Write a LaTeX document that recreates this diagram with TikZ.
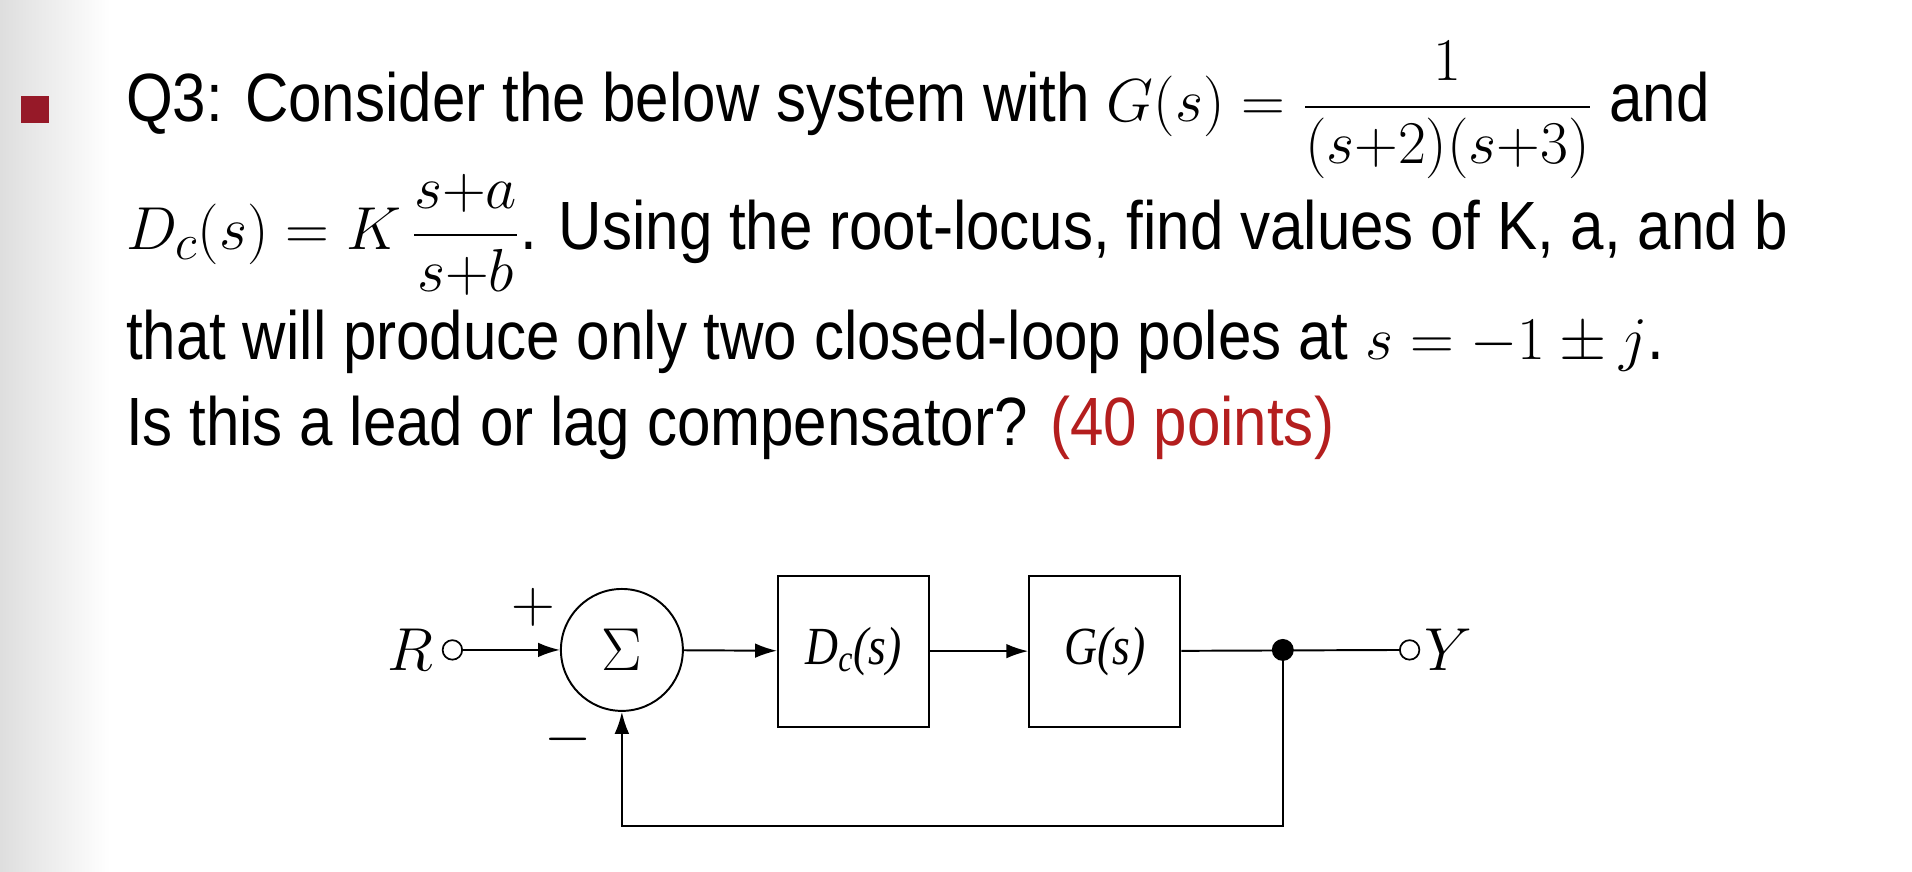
\documentclass[tikz,border=0pt]{standalone}
\usepackage{amsmath}
\usepackage{fontspec}
\setmainfont{Liberation Sans}[FakeStretch=0.88]
\newfontfamily\serifit{Liberation Serif}[FakeStretch=0.85]
\usetikzlibrary{arrows.meta}
\definecolor{qred}{RGB}{180,30,30}
\definecolor{bred}{RGB}{150,25,40}
\begin{document}
\begin{tikzpicture}[x=0.5pt,y=-0.5pt,
  txt/.style={anchor=base west,inner sep=0pt,font=\fontsize{28}{30}\selectfont},
  blk/.style={draw,line width=0.8pt,minimum width=62pt,minimum height=62pt,inner sep=0pt,font=\fontsize{22}{24}\selectfont},
  sig/.style={line width=0.8pt,-{Latex[length=9pt,width=6pt]}},
  wire/.style={line width=0.8pt},
  port/.style={draw,circle,line width=0.7pt,minimum size=8pt,inner sep=0pt,fill=white},
  lbl/.style={font=\fontsize{24}{26}\selectfont,inner sep=0pt}]
\useasboundingbox (0,0) rectangle (1568,715);
\shade[left color=black!13,right color=white] (0,0) rectangle (90,715);
\fill[bred] (17,79) rectangle (40,101);
\node[txt] (l1) at (103,100) {Q3: Consider the below system with $G(s)=\dfrac{1}{(s{+}2)(s{+}3)}$ and};
\node[txt] (l2) at (103,205) {$D_c(s)=K\,\dfrac{s{+}a}{s{+}b}$. Using the root-locus, find values of K, a, and b};
\node[txt] (l3) at (103,295) {that will produce only two closed-loop poles at $s=-1\pm j$.};
\node[txt] (l4) at (103,365) {Is this a lead or lag compensator? \textcolor{qred}{(40 points)}};
% diagram
\node[draw,circle,line width=0.8pt,minimum size=50pt,inner sep=0pt] (sum) at (510,533) {\fontsize{24}{26}\selectfont$\Sigma$};
\node[blk] (dc) at (700,534) {\serifit\itshape D\textsubscript{\itshape c}(s)};
\node[blk] (g) at (906,534) {\serifit\itshape G(s)};
\node[port] (rin) at (371,533) {};
\node[lbl,anchor=east] (R) at (356,533) {$R$};
\node[port] (yout) at (1156,533) {};
\node[lbl,anchor=west] (Y) at (1168,533) {$Y$};
\fill (1052,533) circle (4.5pt) coordinate (br);
\coordinate (c1) at (1052,677);
\coordinate (c2) at (510,677);
\draw[sig] (rin) -- (sum);
\draw[sig] (sum) -- (dc);
\draw[sig] (dc) -- (g);
\draw[wire] (g) -- (yout);
\draw[sig] (br) -- (c1) -- (c2) -- (sum);
\node[lbl] (plus) at (437,498) {$+$};
\node[lbl] (minus) at (466,606) {$-$};
\end{tikzpicture}
\end{document}
